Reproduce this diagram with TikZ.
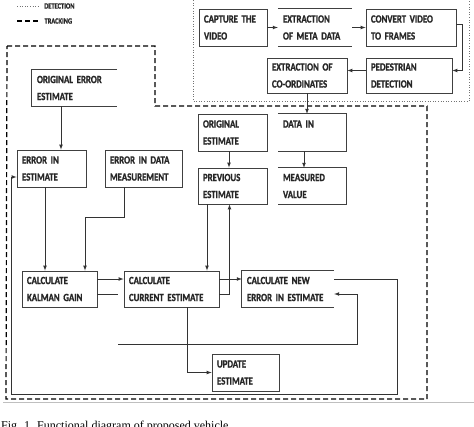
\documentclass[tikz,border=0pt]{standalone}
\usepackage{fontspec}
\setmainfont{Liberation Serif}
\newfontfamily\boxfont[FakeStretch=0.8,FakeBold=1.2]{Carlito Bold}
\usetikzlibrary{calc,arrows}

\begin{document}
\begin{tikzpicture}[x=1pt,y=-1pt,
  blk/.style={inner xsep=5pt,inner ysep=0pt,align=left,text=black!85,
    font=\boxfont\fontsize{11}{17}\selectfont},
  boxline/.style={draw=black!75,line width=0.8pt},
  box/.style={blk,boxline},
  link/.style={draw=black!80,line width=0.7pt},
  arr/.style={link,-latex},
  track/.style={line width=1.2pt,dash pattern=on 5pt off 3pt},
  detect/.style={black!55,line width=0.6pt,dotted},
  legend/.style={inner sep=0pt,anchor=west,text=black!85,font=\boxfont\fontsize{8}{10}\selectfont}]
\useasboundingbox (0,0) rectangle (474,426);

% legend
\draw[detect] (17,6) -- (39,6) node[legend,xshift=5pt] (ldet) {DETECTION};
\draw[track] (17,21) -- (39,21) node[legend,xshift=5pt] (ltrack) {TRACKING};

% detection part
\draw[detect] (193,-5) -- (193,101) -- (469,101) -- (469,-5);
\node[box,text width=58pt,minimum height=37pt] (capture) at (233,27.5) {CAPTURE THE\\VIDEO};
\node[blk,text width=64pt,minimum height=37pt] (meta) at (315,27.5) {EXTRACTION\\OF META DATA};
\draw[boxline] (meta.north west) -- (meta.north east) (meta.south west) -- (meta.south east);
\node[box,text width=80pt,minimum height=37pt] (convert) at (411,27.5) {CONVERT VIDEO\\TO FRAMES};
\node[box,text width=76pt,minimum height=35pt] (pedestrian) at (409,75.5) {PEDESTRIAN\\DETECTION};
\node[box,text width=70pt,minimum height=35pt] (coords) at (307,75.5) {EXTRACTION OF\\CO-ORDINATES};
\draw[arr] (capture) -- (meta);
\draw[arr] (meta) -- (convert);
\draw[arr] ([yshift=3pt]convert.east) -- ++(6,0) |- ([yshift=5pt]pedestrian.east);
\draw[arr] ([yshift=5pt]pedestrian.west) -- ([yshift=5pt]coords.east);

% tracking part
\draw[track] (7,46) -- (155,46) -- (155,106) -- (427,106) -- (427,399) -- (6,399) -- cycle;
\node[blk,text width=75pt,minimum height=36pt] (origerr) at (74.5,88) {ORIGINAL ERROR\\ESTIMATE};
\draw[boxline] (origerr.north east) -- (origerr.north west) -- (origerr.south west) -- (origerr.south east);
\node[box,text width=59pt,minimum height=37pt] (errest) at (51.5,168.5) {ERROR IN\\ESTIMATE};
\node[box,text width=67pt,minimum height=37pt] (errdata) at (143.5,168.5) {ERROR IN DATA\\MEASUREMENT};
\node[box,text width=59pt,minimum height=37pt] (origest) at (232.5,132.5) {ORIGINAL\\ESTIMATE};
\node[blk,text width=58pt,minimum height=37pt] (datain) at (312,132.5) {DATA IN\\\mbox{}};
\draw[boxline] (datain.north west) -- (datain.north east) -- (datain.south east) -- (datain.south west);
\node[box,text width=59pt,minimum height=36pt] (prevest) at (232.5,186) {PREVIOUS\\ESTIMATE};
\node[blk,text width=58pt,minimum height=36pt] (measured) at (312,186) {MEASURED\\VALUE};
\draw[boxline] (measured.north west) -- (measured.north east) -- (measured.south east) -- (measured.south west);
\node[box,text width=65pt,minimum height=36pt] (kalman) at (59.5,289) {CALCULATE\\KALMAN GAIN};
\node[box,text width=85pt,minimum height=36pt] (current) at (171.5,289) {CALCULATE\\CURRENT ESTIMATE};
\node[blk,text width=82pt,minimum height=36pt] (newerr) at (288,289) {CALCULATE NEW\\ERROR IN ESTIMATE};
\draw[boxline] (newerr.north east) -- (newerr.north west) -- (newerr.south west) -- (newerr.south east);
\node[box,text width=57pt,minimum height=37pt] (update) at (245.5,372.5) {UPDATE\\ESTIMATE};

\coordinate (loopR) at (397,394);
\coordinate (loopL) at (11,394);
\coordinate (gainend) at (118,344);

\draw[arr] (coords.south) -- (coords.south |- datain.north);
\draw[arr] ([xshift=-8pt]datain.south) -- ([xshift=-8pt]measured.north);
\draw[arr] ([xshift=-3.5pt]origest.south) -- ([xshift=-3.5pt]prevest.north);
\draw[arr] ([xshift=-13.5pt]origerr.south) -- ([xshift=-13.5pt]origerr.south |- errest.north);
\draw[arr] ([xshift=-6.5pt]errest.south) -- ([xshift=-6.5pt]errest.south |- kalman.north);
\draw[arr] ([xshift=-19.5pt]errdata.south) -- ++(0,30) -| ([xshift=25.5pt]kalman.north);
\draw[arr] ([yshift=10pt]kalman.east) -- ([yshift=10pt]current.west);
\draw[link] ([yshift=-5pt]kalman.east) -- ++(21,0);
\draw[arr] ([xshift=-25.5pt]prevest.south) -- ([xshift=-25.5pt]prevest.south |- current.north);
\draw[arr] ([yshift=-5pt]current.east) -| ([xshift=-3pt]prevest.south);
\draw[arr] ([yshift=10pt]current.east) -- ([yshift=10pt]newerr.west);
\draw[arr] ([yshift=10pt]newerr.east) -| (loopR) -- (loopL) |- ([yshift=-8.5pt]errest.west);
\draw[arr] (gainend) -| ([xshift=23pt,yshift=-5pt]newerr.east) -- ([yshift=-5pt]newerr.east);
\draw[arr] ([xshift=15.5pt]current.south) |- (update.west);

% caption
\draw[black!25,line width=0.6pt] (3,402) -- (474,402);
\begin{scope}
\clip (0,0) rectangle (474,426);
\node[anchor=north west,inner sep=0pt,font=\fontsize{12}{14}\selectfont] (caption) at (1,421) {Fig. 1. Functional diagram of proposed vehicle};
\end{scope}
\end{tikzpicture}
\end{document}
